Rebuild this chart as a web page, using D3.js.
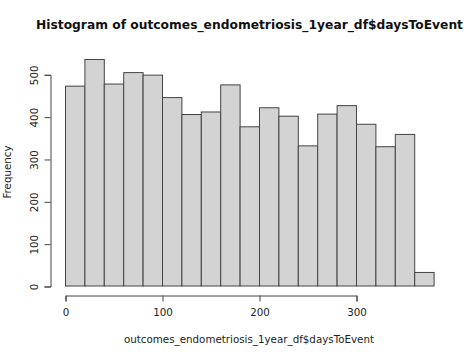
<!DOCTYPE html>
<html><head><meta charset="utf-8">
<script src="https://cdn.jsdelivr.net/npm/d3@7"></script>
<style>body{margin:0;background:#fff}svg{display:block}text{font-family:"DejaVu Sans",sans-serif}</style>
</head><body>
<script>
const binStarts = [0,20,40,60,80,100,120,140,160,180,200,220,240,260,280,300,320,340,360];
const binWidth = 20;
const counts = [472,535,477,504,498,445,405,411,475,376,421,401,331,406,426,382,329,358,32];
const xTicks = [0,100,200,300];
const yTicks = [0,100,200,300,400,500];
const title = "Histogram of outcomes_endometriosis_1year_df$daysToEvent";
const xLabel = "outcomes_endometriosis_1year_df$daysToEvent";
const yLabel = "Frequency";

const W = 474, H = 358;
const svg = d3.select("body").append("svg").attr("width", W).attr("height", H);
const x = d3.scaleLinear().domain([0,300]).range([65,356]);
const y = d3.scaleLinear().domain([0,500]).range([286,74.3]);

svg.append("g").selectAll("rect").data(binStarts).join("rect")
  .attr("x", (d) => x(d)+0.5)
  .attr("width", (d) => x(d+binWidth)-x(d))
  .attr("y", (d,i) => y(counts[i]))
  .attr("height", (d,i) => y(0)-y(counts[i]))
  .attr("fill", "#d3d3d3").attr("stroke", "#444").attr("stroke-width", 1);

const xa = svg.append("g").attr("transform", "translate(0.5,295.5)")
  .call(d3.axisBottom(x).tickValues(xTicks).tickSize(6).tickPadding(7).tickFormat(d3.format("d")));
xa.select(".domain").attr("stroke", "#444");
xa.selectAll(".tick line").attr("stroke", "#444");
xa.selectAll("text").attr("font-size", 10.3).attr("fill", "#222").attr("font-family", "DejaVu Sans");

const ya = svg.append("g").attr("transform", "translate(50.5,0.5)")
  .call(d3.axisLeft(y).tickValues(yTicks).tickSize(6).tickPadding(7).tickFormat(d3.format("d")));
ya.select(".domain").attr("stroke", "#444");
ya.selectAll(".tick line").attr("stroke", "#444");
ya.selectAll("text").attr("font-size", 10.3).attr("fill", "#222").attr("font-family", "DejaVu Sans")
  .attr("text-anchor", "middle").attr("dx", 0).attr("x", 0).attr("dy", 0)
  .attr("transform", "translate(-17,0) rotate(-90)").attr("dominant-baseline", "central");

svg.append("text").attr("x", 249.5).attr("y", 29).attr("text-anchor", "middle")
  .attr("font-size", 12.2).attr("font-weight", "bold").attr("fill", "#111")
  .attr("textLength", 427).attr("lengthAdjust", "spacingAndGlyphs").text(title);
svg.append("text").attr("x", 249).attr("y", 343).attr("text-anchor", "middle")
  .attr("font-size", 10.3).attr("fill", "#222")
  .attr("textLength", 250).attr("lengthAdjust", "spacingAndGlyphs").text(xLabel);
svg.append("text").attr("transform", "translate(11,172) rotate(-90)").attr("text-anchor", "middle")
  .attr("font-size", 10.3).attr("fill", "#222").text(yLabel);
</script>
</body></html>
